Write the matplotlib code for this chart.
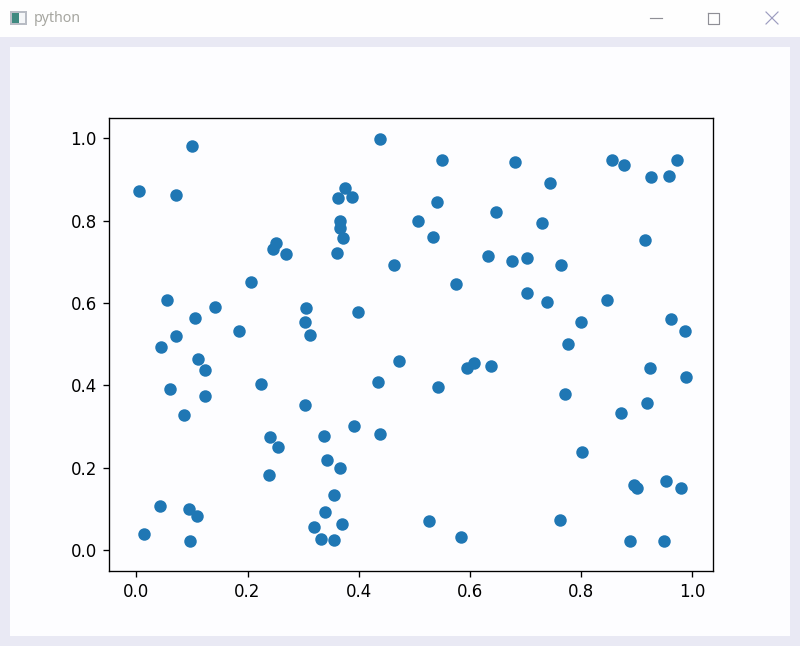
import matplotlib
matplotlib.use("Agg")
import matplotlib.pyplot as plt
from matplotlib.patches import Rectangle
from matplotlib.lines import Line2D

x = [0.101, 0.439, 0.004, 0.072, 0.376, 0.362, 0.388, 0.367, 0.367, 0.371,
     0.360, 0.251, 0.245, 0.269, 0.464, 0.207, 0.056, 0.142, 0.105, 0.306,
     0.303, 0.313, 0.398, 0.184, 0.072, 0.045,
     0.549, 0.680, 0.743, 0.855, 0.876, 0.973, 0.957, 0.925, 0.540, 0.507,
     0.533, 0.647, 0.730, 0.914, 0.632, 0.675, 0.703, 0.763, 0.574, 0.702,
     0.738, 0.847, 0.799, 0.962, 0.986, 0.777,
     0.111, 0.123, 0.060, 0.123, 0.085, 0.225, 0.303, 0.473, 0.434, 0.392,
     0.439, 0.338, 0.241, 0.254, 0.342, 0.367, 0.238, 0.356, 0.340, 0.369,
     0.319, 0.332, 0.356, 0.043, 0.094, 0.109, 0.013, 0.096,
     0.608, 0.594, 0.637, 0.542, 0.770, 0.923, 0.988, 0.919, 0.871, 0.802,
     0.894, 0.901, 0.952, 0.980, 0.527, 0.761, 0.583, 0.887, 0.948]
y = [0.982, 0.999, 0.871, 0.863, 0.880, 0.854, 0.856, 0.799, 0.782, 0.757,
     0.722, 0.745, 0.731, 0.718, 0.691, 0.650, 0.608, 0.591, 0.563, 0.587,
     0.553, 0.521, 0.577, 0.531, 0.519, 0.492,
     0.948, 0.943, 0.890, 0.948, 0.934, 0.948, 0.907, 0.905, 0.844, 0.800,
     0.761, 0.820, 0.795, 0.752, 0.715, 0.701, 0.708, 0.693, 0.645, 0.623,
     0.601, 0.606, 0.553, 0.562, 0.531, 0.500,
     0.463, 0.436, 0.390, 0.373, 0.327, 0.402, 0.351, 0.458, 0.409, 0.301,
     0.282, 0.278, 0.274, 0.249, 0.218, 0.198, 0.181, 0.133, 0.092, 0.062,
     0.055, 0.027, 0.024, 0.108, 0.099, 0.082, 0.039, 0.022,
     0.453, 0.443, 0.446, 0.397, 0.378, 0.441, 0.419, 0.356, 0.332, 0.237,
     0.159, 0.150, 0.167, 0.150, 0.070, 0.072, 0.032, 0.023, 0.023]

W, H = 800, 646
fig = plt.figure(figsize=(W / 120, H / 120), dpi=120, facecolor="#fefefe")
bg = "#fdfdff"
border = "#e9e9f4"


def px_rect(x0, y0, w, h, color):
    # y0 counted from the top of the window
    fig.add_artist(Rectangle((x0 / W, 1 - (y0 + h) / H), w / W, h / H,
                             transform=fig.transFigure, color=color, lw=0))


def px_line(xs, ys, color="#8f8f96", lw=0.7):
    fig.add_artist(Line2D([v / W for v in xs], [1 - v / H for v in ys],
                          transform=fig.transFigure, color=color, lw=lw))


# window frame
px_rect(0, 37, 800, 609, border)
px_rect(10, 47, 780, 589, bg)

# title bar
px_rect(10, 11, 17, 14, "#b8bcc4")
px_rect(12, 13, 7, 10, "#3f8a80")
px_rect(19, 13, 6, 10, "#f4f6f8")
fig.text(34 / W, 1 - 19 / H, "python", color="#a6a6a0", fontsize=8.5,
         va="center", ha="left", family="Noto Sans")
px_line([650, 662], [17.5, 17.5])
px_line([707.5, 718.5, 718.5, 707.5, 707.5], [12.5, 12.5, 23.5, 23.5, 12.5])
px_line([766, 778], [12, 24], color="#9c9cc0")
px_line([766, 778], [24, 12], color="#9c9cc0")

ax = fig.add_axes([108.5 / W, 1 - 571 / H, 604 / W, 453 / H])
ax.set_zorder(5)
ax.set_facecolor(bg)
ax.scatter(x, y, s=42)
ax.set_xlim(-0.05, 1.036)
ax.set_ylim(-0.051, 1.049)

fig.savefig("out.png", dpi=120, facecolor=fig.get_facecolor())
